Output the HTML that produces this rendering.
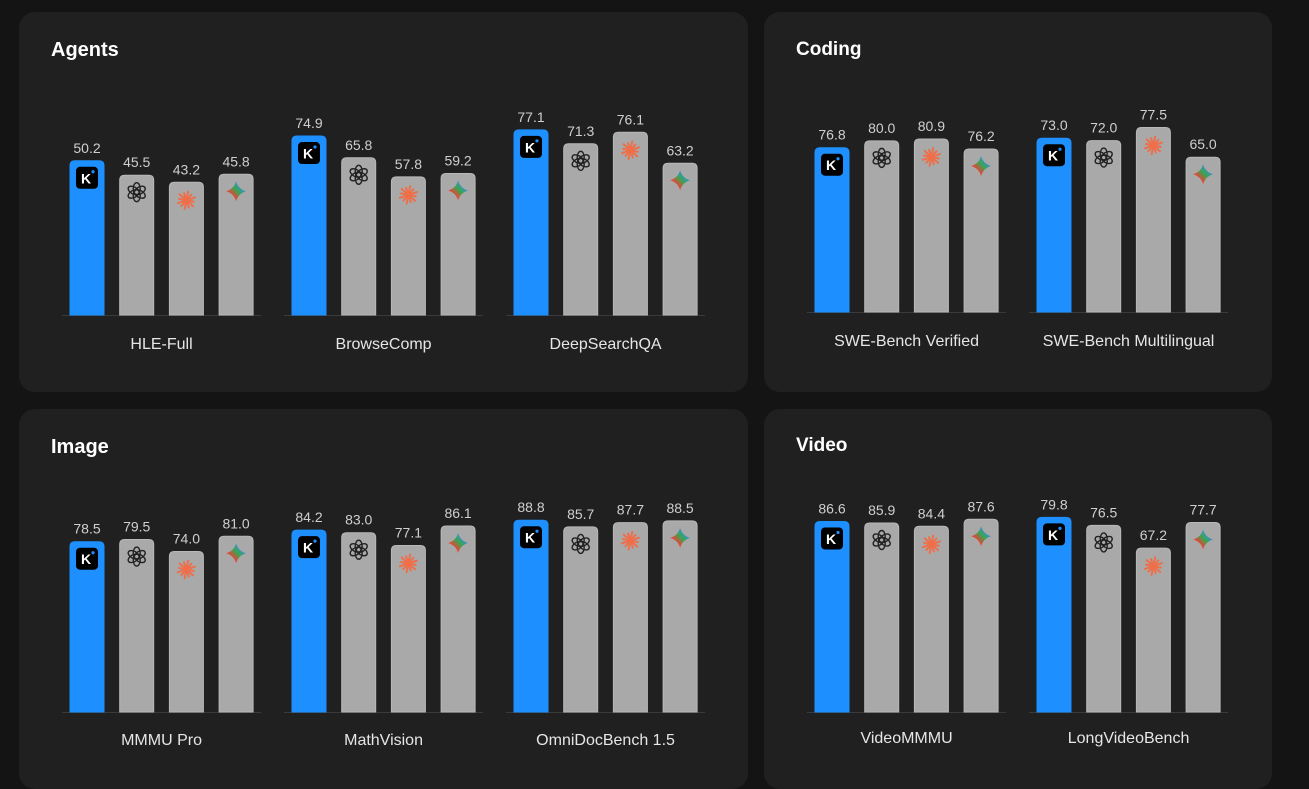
<!DOCTYPE html>
<html><head><meta charset="utf-8">
<style>
html,body{margin:0;padding:0;background:#141414;width:1309px;height:769px;overflow:hidden;font-family:"Liberation Sans",sans-serif;}
.panel{position:absolute;background:#202020;border-radius:16px;}
.title{position:absolute;color:#fff;font-weight:bold;font-size:20px;}
svg{position:absolute;left:0;top:0;}
</style></head><body>
<div class="panel" style="left:19px;top:12px;width:729px;height:380px"></div>
<div class="panel" style="left:764px;top:12px;width:508px;height:380px"></div>
<div class="panel" style="left:19px;top:409px;width:729px;height:380px"></div>
<div class="panel" style="left:764px;top:409px;width:508px;height:380px"></div>
<div class="title" style="left:51px;top:39px">Agents</div>
<div class="title" style="left:796px;top:39px;font-size:19px">Coding</div>
<div class="title" style="left:51px;top:436px">Image</div>
<div class="title" style="left:796px;top:435px;font-size:19px">Video</div>
<svg id="chart" width="1309" height="769">
<defs>
<linearGradient id="gem" x1="0" y1="1" x2="1" y2="0">
<stop offset="0" stop-color="#f5c000"/><stop offset="0.3" stop-color="#ea4335"/><stop offset="0.55" stop-color="#34a853"/><stop offset="0.8" stop-color="#4285f4"/><stop offset="1" stop-color="#4285f4"/>
</linearGradient>
</defs>
</svg>
<script>
const agentsCats = ["HLE-Full","BrowseComp","DeepSearchQA"];
const agentsVals = [[50.2,45.5,43.2,45.8],[74.9,65.8,57.8,59.2],[77.1,71.3,76.1,63.2]];
const agentsMax = [65.1,83.7,83.3];
const codingCats = ["SWE-Bench Verified","SWE-Bench Multilingual"];
const codingVals = [[76.8,80.0,80.9,76.2],[73.0,72.0,77.5,65.0]];
const codingMax = [93.5,84.0];
const imageCats = ["MMMU Pro","MathVision","OmniDocBench 1.5"];
const imageVals = [[78.5,79.5,74.0,81.0],[84.2,83.0,77.1,86.1],[88.8,85.7,87.7,88.5]];
const imageMax = [92.2,92.6,92.6];
const videoCats = ["VideoMMMU","LongVideoBench"];
const videoVals = [[86.6,85.9,84.4,87.6],[79.8,76.5,67.2,77.7]];
const videoMax = [90.9,82.0];
const models = ["kimi","gpt","claude","gemini"];

const NS="http://www.w3.org/2000/svg";
const svg=document.getElementById('chart');
function mk(tag,attrs,parent){const e=document.createElementNS(NS,tag);for(const k in attrs)e.setAttribute(k,attrs[k]);(parent||svg).appendChild(e);return e;}

function icon(m,cx,y,g){
  if(m==="kimi"){
    mk('rect',{x:cx-11,y:y,width:22,height:22,rx:4,fill:'#000'},g);
    const t=mk('text',{x:cx-1,y:y+16.5,'text-anchor':'middle','font-size':14,'font-weight':'bold',fill:'#fff','font-family':'Liberation Sans, sans-serif'},g);t.textContent='K';
    mk('circle',{cx:cx+6,cy:y+5,r:1.6,fill:'#1e8fff'},g);
  } else if(m==="gpt"){
    const cy=y+11;
    for(let i=0;i<6;i++){mk('ellipse',{cx:cx,cy:cy-3.5,rx:3.5,ry:6,fill:'none',stroke:'#222','stroke-width':1.4,transform:`rotate(${i*60} ${cx} ${cy})`},g);}
  } else if(m==="claude"){
    const cy=y+12;
    for(let i=0;i<12;i++){const a=i*Math.PI/6+0.2;const r=i%2?9:7.5;mk('line',{x1:cx,y1:cy,x2:cx+r*Math.cos(a),y2:cy+r*Math.sin(a),stroke:'#ee6f4a','stroke-width':2,'stroke-linecap':'round'},g);}
  } else {
    const cy=y+11,r=10,k=2.2;
    mk('path',{d:`M${cx} ${cy-r} Q${cx+k} ${cy-k} ${cx+r} ${cy} Q${cx+k} ${cy+k} ${cx} ${cy+r} Q${cx-k} ${cy+k} ${cx-r} ${cy} Q${cx-k} ${cy-k} ${cx} ${cy-r}Z`,fill:'url(#gem)'},g);
  }
}

function panel(name,cats,vals,maxes,x0,base,labelY){
  const step=222, bstep=49.7, bw=34, H=200;
  cats.forEach((c,gi)=>{
    const gx=x0+gi*step;
    const y=v=>base - v/maxes[gi]*H;
    const g=mk('g',{});
    
    
    const ax=mk('line',{x1:gx-8,x2:gx+3*bstep+bw+8,y1:base+0.5,y2:base+0.5,stroke:'#3a3a3a','stroke-width':1},g);
    
    
    vals[gi].forEach((v,i)=>{
      const bx=gx+i*bstep, top=y(v);
      const p=mk('path',{d:`M${bx} ${base} L${bx} ${top+5} Q${bx} ${top} ${bx+5} ${top} L${bx+bw-5} ${top} Q${bx+bw} ${top} ${bx+bw} ${top+5} L${bx+bw} ${base}Z`,fill:i===0?'#1e8fff':'#a9a9a9',stroke:i===0?'#1e8fff':'#b8b8b8','stroke-width':1},g);
      
      
      const t=mk('text',{x:bx+bw/2,y:top-8,'text-anchor':'middle','font-size':14,fill:'#cfcfcf'},g);
      t.textContent=v.toFixed(1);
      
      
      icon(models[i],bx+bw/2,top+6,g);
    });
    const l=mk('text',{x:gx+(3*bstep+bw)/2,y:labelY+6,'text-anchor':'middle','font-size':16,fill:'#e6e6e6'},g);
    l.textContent=c;
    
    
  });
}
panel('agents',agentsCats,agentsVals,agentsMax,70,315,343);
panel('coding',codingCats,codingVals,codingMax,815,312,340);
panel('image',imageCats,imageVals,imageMax,70,712,739);
panel('video',videoCats,videoVals,videoMax,815,712,737);
</script>
</body></html>
